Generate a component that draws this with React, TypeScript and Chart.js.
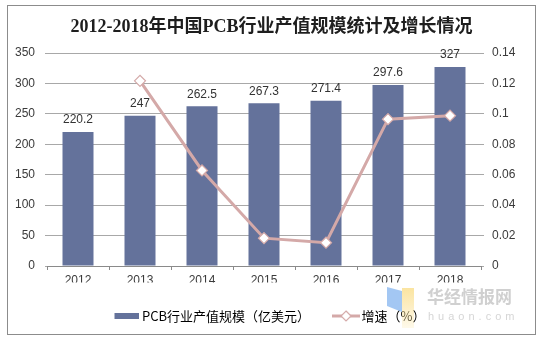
import React, { useEffect, useRef } from 'react';
import { Chart, registerables } from 'chart.js';

Chart.register(...registerables);

// ---- data ----
const years = ['2012', '2013', '2014', '2015', '2016', '2017', '2018'];
const outputValue = [220.2, 247, 262.5, 267.3, 271.4, 297.6, 327];
const growthRate = [null, 0.1217, 0.0628, 0.0183, 0.0153, 0.0965, 0.0988];
const valueAxis = { min: 0, max: 350, step: 50 };
const rateAxis = { min: 0, max: 0.14, step: 0.02 };

const TITLE = '2012-2018年中国PCB行业产值规模统计及增长情况';
const SERIES_NAMES = ['PCB行业产值规模（亿美元）', '增速（%）'];

// ---- styles ----
const BAR_COLOR = '#64729b';
const LINE_COLOR = '#d4a9a8';
const GRID_COLOR = '#a8a8a8';
const AXIS_COLOR = '#8a8a8a';
const TEXT_COLOR = '#3a3a3a';
const SANS = '"Liberation Sans", Arial, sans-serif';
const CJK = '"Noto Sans CJK SC", sans-serif';
const TITLE_FONT = '"Liberation Serif", "Noto Sans CJK SC", serif';

function makeBarSwatch(): HTMLCanvasElement {
  const c = document.createElement('canvas');
  c.width = 26;
  c.height = 6;
  const g = c.getContext('2d')!;
  g.fillStyle = BAR_COLOR;
  g.fillRect(1, 0, 25, 6);
  return c;
}

function makeLineSwatch(): HTMLCanvasElement {
  const c = document.createElement('canvas');
  c.width = 28;
  c.height = 12;
  const g = c.getContext('2d')!;
  g.strokeStyle = LINE_COLOR;
  g.lineWidth = 3;
  g.beginPath();
  g.moveTo(0, 6);
  g.lineTo(28, 6);
  g.stroke();
  g.beginPath();
  g.moveTo(14, 1);
  g.lineTo(19, 6);
  g.lineTo(14, 11);
  g.lineTo(9, 6);
  g.closePath();
  g.fillStyle = '#ffffff';
  g.fill();
  g.lineWidth = 1.2;
  g.stroke();
  return c;
}

const framePlugin = {
  id: 'frame',
  beforeDraw(chart: Chart) {
    const { ctx, width, height } = chart;
    ctx.save();
    ctx.fillStyle = '#ffffff';
    ctx.fillRect(0, 0, width, height);
    ctx.strokeStyle = '#8c8c8c';
    ctx.lineWidth = 1;
    ctx.strokeRect(7.5, 5.5, 528, 329);
    ctx.restore();
  },
};

const barLabelPlugin = {
  id: 'barLabels',
  afterDatasetsDraw(chart: Chart) {
    const { ctx } = chart;
    const meta = chart.getDatasetMeta(1);
    ctx.save();
    ctx.font = `12px ${SANS}`;
    ctx.fillStyle = '#333333';
    ctx.textAlign = 'center';
    ctx.textBaseline = 'alphabetic';
    meta.data.forEach((el: any, i: number) => {
      ctx.fillText(String(outputValue[i]), el.x, el.y - 8.5);
    });
    ctx.restore();
  },
};

const watermarkPlugin = {
  id: 'watermark',
  afterDraw(chart: Chart) {
    const { ctx } = chart;
    ctx.save();
    // logo
    ctx.fillStyle = 'rgba(140, 185, 240, 0.8)';
    ctx.beginPath();
    ctx.moveTo(387, 287);
    ctx.lineTo(402, 291);
    ctx.lineTo(402, 312);
    ctx.lineTo(387, 306);
    ctx.closePath();
    ctx.fill();
    const grad = ctx.createLinearGradient(0, 288, 0, 328);
    grad.addColorStop(0, 'rgba(250, 225, 150, 0.9)');
    grad.addColorStop(1, 'rgba(250, 225, 150, 0.2)');
    ctx.fillStyle = grad;
    ctx.fillRect(402, 288, 12, 40);
    // text
    ctx.fillStyle = '#d0d0d0';
    ctx.font = `bold 17px ${CJK}`;
    ctx.textAlign = 'left';
    ctx.textBaseline = 'alphabetic';
    ctx.fillText('华经情报网', 427, 303);
    ctx.fillStyle = '#d6d6d6';
    ctx.font = `11px ${SANS}`;
    (ctx as any).letterSpacing = '4px';
    ctx.fillText('huaon.com', 428, 320);
    ctx.restore();
  },
};

export default function App() {
  const canvasRef = useRef<HTMLCanvasElement | null>(null);

  useEffect(() => {
    if (!canvasRef.current) return;
    const barSwatch = makeBarSwatch();
    const lineSwatch = makeLineSwatch();

    const chart = new Chart(canvasRef.current, {
      type: 'bar',
      data: {
        labels: years,
        datasets: [
          {
            type: 'line',
            label: SERIES_NAMES[1],
            data: growthRate,
            yAxisID: 'y1',
            borderColor: LINE_COLOR,
            borderWidth: 3,
            pointStyle: 'rectRot',
            pointRadius: 5.5,
            pointBackgroundColor: '#ffffff',
            pointBorderColor: LINE_COLOR,
            pointBorderWidth: 1.2,
            tension: 0,
            order: 0,
          } as any,
          {
            type: 'bar',
            label: SERIES_NAMES[0],
            data: outputValue,
            yAxisID: 'y',
            backgroundColor: BAR_COLOR,
            barPercentage: 0.5,
            categoryPercentage: 1,
            order: 1,
          },
        ],
      },
      options: {
        responsive: false,
        animation: false,
        devicePixelRatio: 1,
        layout: { padding: { top: 5, bottom: 9.5, left: 0, right: 0 } },
        plugins: {
          title: {
            display: true,
            text: TITLE,
            color: '#1e1e1e',
            font: { family: TITLE_FONT, size: 18, weight: 'bold' },
            padding: { top: 12, bottom: 14.4 },
          },
          legend: {
            position: 'bottom',
            labels: {
              usePointStyle: true,
              pointStyleWidth: 18,
              padding: 27,
              color: '#333333',
              font: { family: CJK, size: 13 },
              generateLabels: () => [
                {
                  text: SERIES_NAMES[0],
                  pointStyle: barSwatch,
                  fillStyle: BAR_COLOR,
                  strokeStyle: BAR_COLOR,
                  lineWidth: 0,
                  hidden: false,
                  datasetIndex: 1,
                },
                {
                  text: SERIES_NAMES[1],
                  pointStyle: lineSwatch,
                  fillStyle: '#ffffff',
                  strokeStyle: LINE_COLOR,
                  lineWidth: 0,
                  hidden: false,
                  datasetIndex: 0,
                },
              ] as any,
            },
          },
          tooltip: { enabled: false },
        },
        scales: {
          x: {
            offset: true,
            grid: {
              display: true,
              drawOnChartArea: false,
              offset: true,
              tickLength: 4,
              color: AXIS_COLOR,
            },
            border: { display: true, color: AXIS_COLOR },
            ticks: { color: TEXT_COLOR, padding: 3, font: { family: SANS, size: 12 } },
            afterFit: (s: any) => {
              s.height = 16.5;
            },
          },
          y: {
            position: 'left',
            min: valueAxis.min,
            max: valueAxis.max,
            ticks: {
              stepSize: valueAxis.step,
              padding: 10,
              color: TEXT_COLOR,
              font: { family: SANS, size: 12 },
            },
            grid: { color: GRID_COLOR, tickLength: 2 },
            border: { display: false },
            afterFit: (s: any) => {
              s.width = 47;
            },
          },
          y1: {
            position: 'right',
            min: rateAxis.min,
            max: rateAxis.max,
            ticks: {
              stepSize: rateAxis.step,
              padding: 8,
              color: TEXT_COLOR,
              font: { family: SANS, size: 12 },
              callback: (v: any) => String(Number(Number(v).toFixed(2))),
            },
            grid: { drawOnChartArea: false, tickLength: 3, color: GRID_COLOR },
            border: { display: false },
            afterFit: (s: any) => {
              s.width = 62;
            },
          },
        },
      },
      plugins: [framePlugin, barLabelPlugin, watermarkPlugin],
    });

    return () => chart.destroy();
  }, []);

  return (
    <div style={{ position: 'absolute', left: 0, top: 0, width: 543, height: 342 }}>
      <canvas ref={canvasRef} width={543} height={342} style={{ display: 'block' }} />
    </div>
  );
}
